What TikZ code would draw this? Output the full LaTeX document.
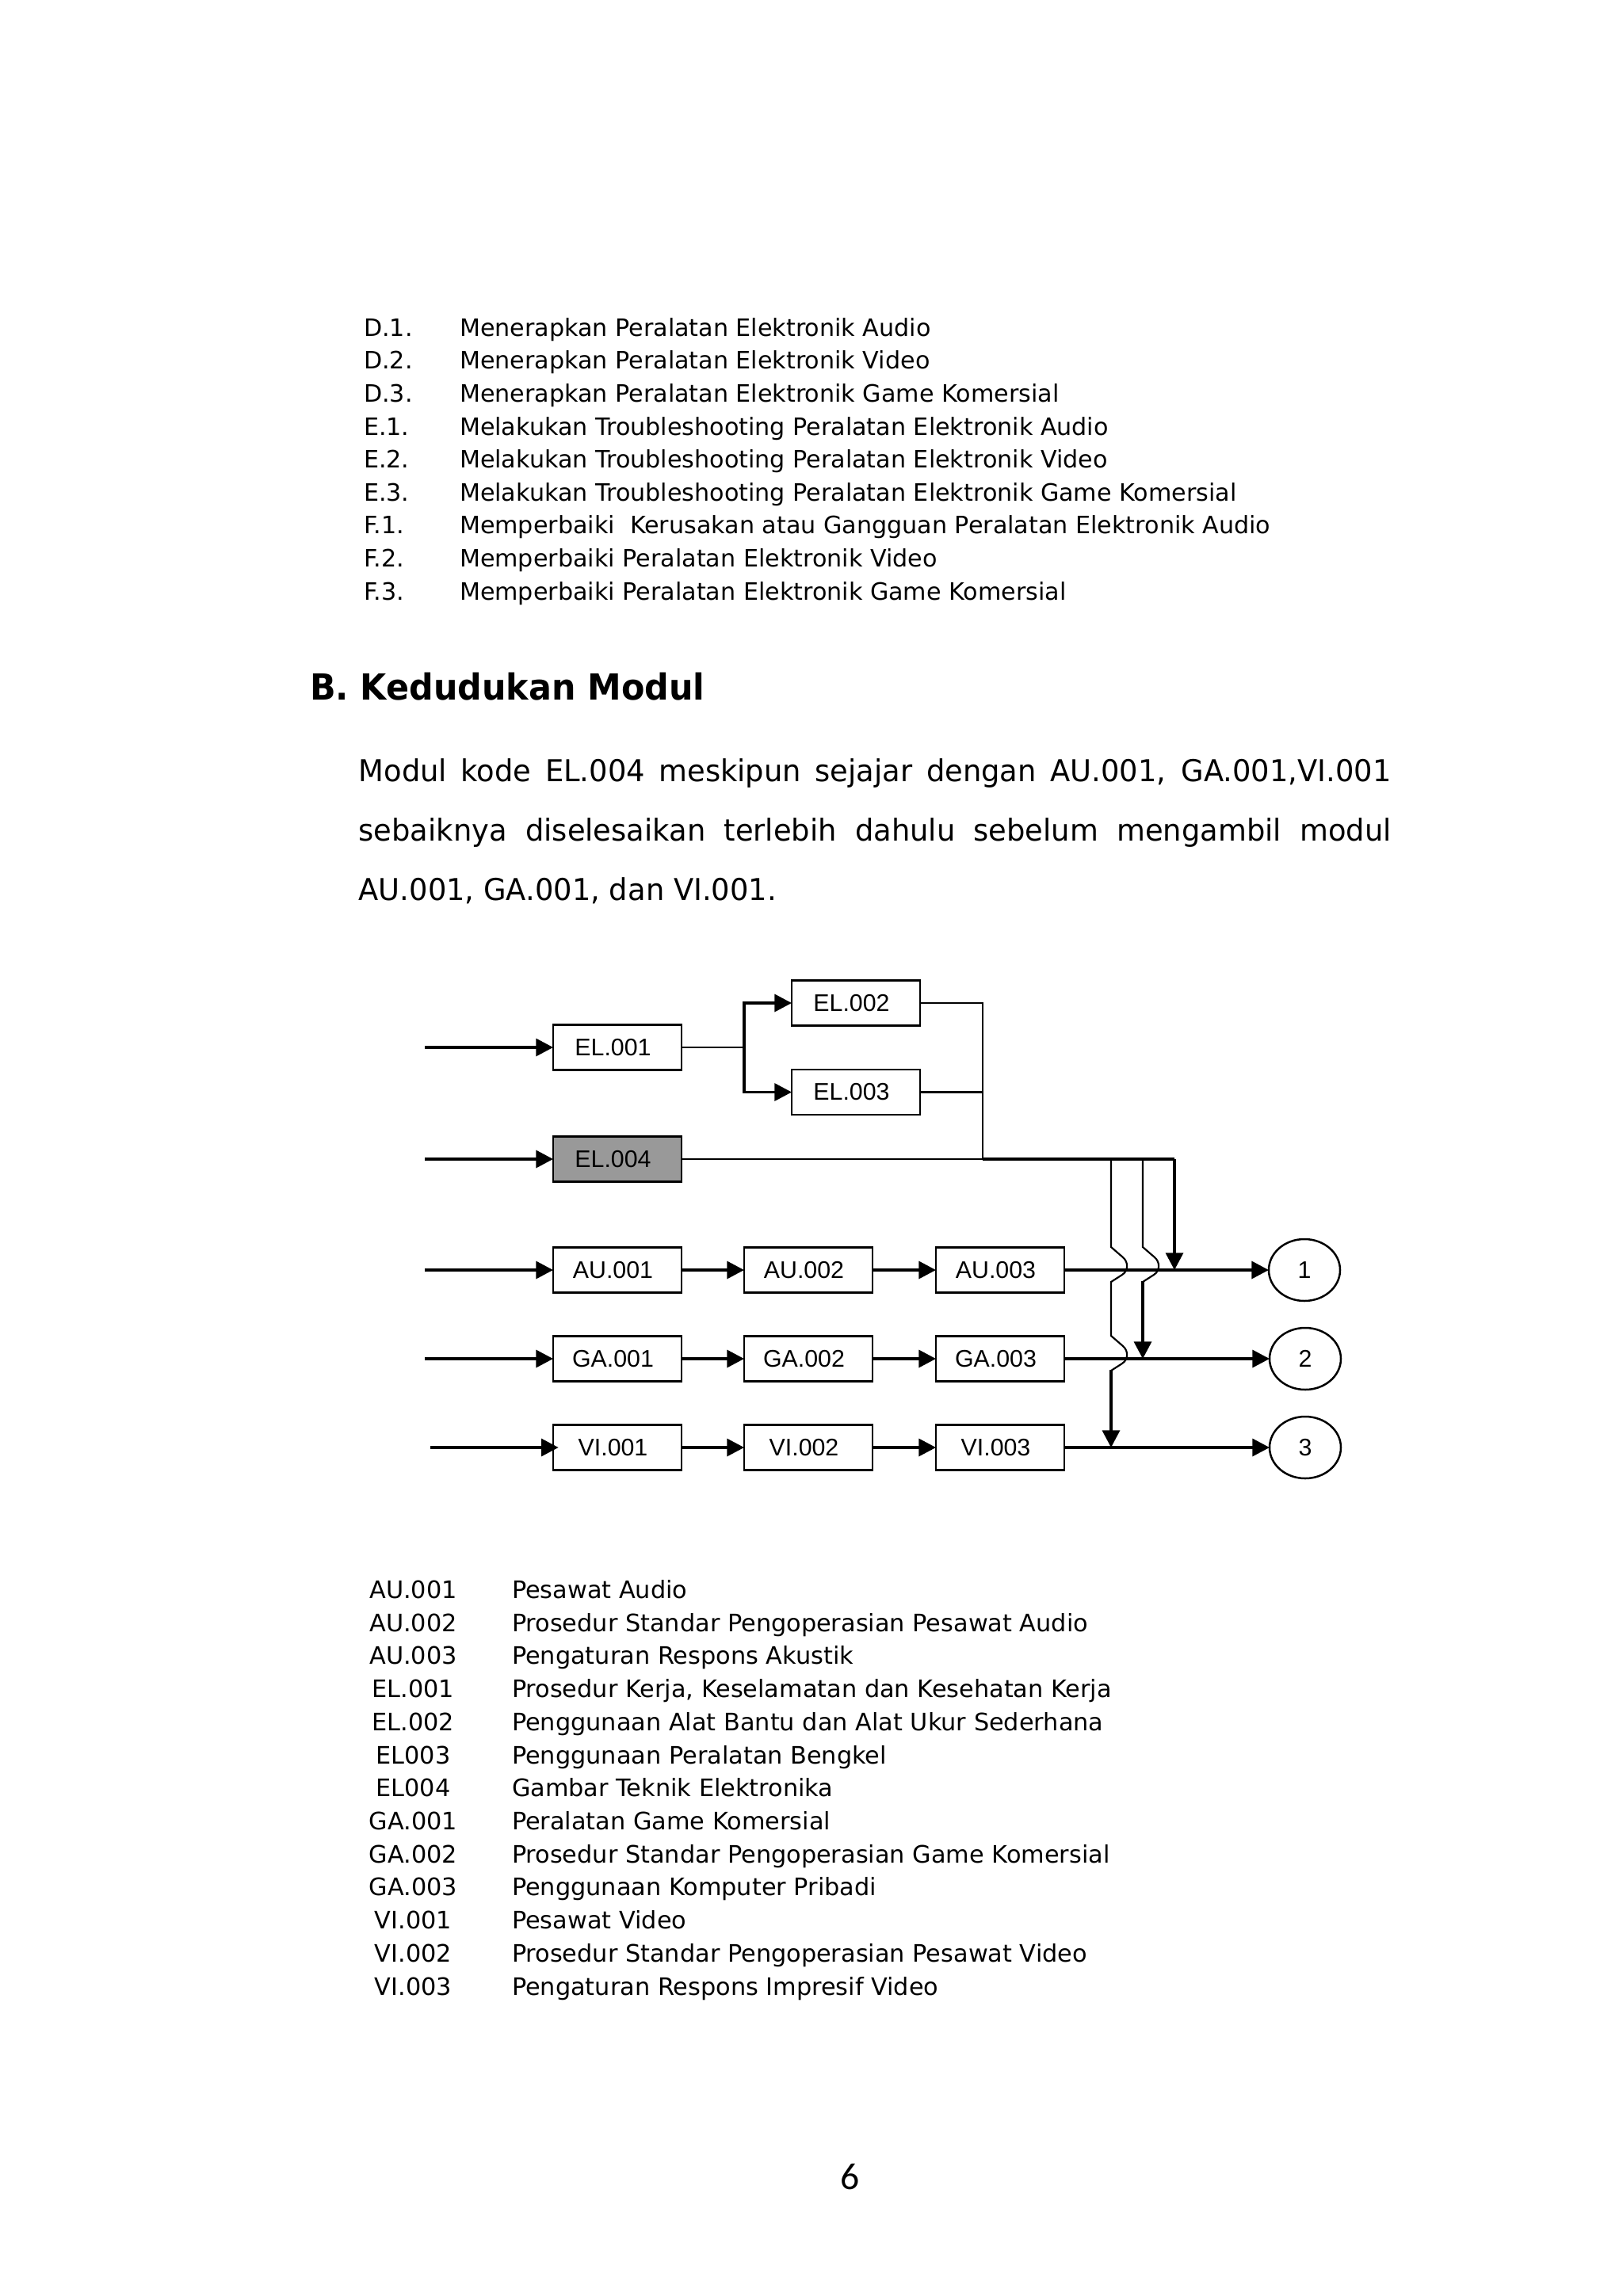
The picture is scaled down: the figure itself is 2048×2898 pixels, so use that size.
\documentclass[tikz,border=0pt]{standalone}
\usepackage{fontspec}
\setmainfont{DejaVu Sans}
\newfontfamily\parf{DejaVu Sans}[FakeStretch=0.97]
\newfontfamily\headf{DejaVu Sans}[FakeStretch=0.945]
\newfontfamily\arialf{Liberation Sans}
\newfontfamily\calib{Carlito}
\usetikzlibrary{arrows.meta,shapes.geometric}
\newcommand\listsz{\fontsize{9.05}{10}\selectfont}
\newcommand\parsz{\parf\fontsize{11.4}{13}\selectfont}
\newcommand\legsz{\fontsize{9.1}{10}\selectfont}
\begin{document}
\begin{tikzpicture}[x=0.3pt,y=-0.3pt,
  txt/.style={anchor=base west,inner sep=0pt,outer sep=0pt},
  box/.style={draw,line width=0.75pt,minimum width=48.6pt,minimum height=17.1pt,
    inner sep=0pt,outer sep=0pt,font=\arialf\fontsize{9.1}{10}\selectfont,
    execute at begin node=\hspace*{-3.3pt}},
  endc/.style={ellipse,draw,line width=0.75pt,minimum width=27pt,minimum height=23.4pt,
    inner sep=0pt,outer sep=0pt,font=\arialf\fontsize{9.1}{10}\selectfont},
  arr/.style={line width=1pt,-{Triangle[length=6.5pt,width=6.6pt]}},
  thinl/.style={line width=0.65pt},
  thickl/.style={line width=1pt}]
\useasboundingbox[fill=white] (0,0) rectangle (2048,2898);

% ---- top list ----
\foreach \k/\a/\b in {0/D.1./Menerapkan Peralatan Elektronik Audio,
  1/D.2./Menerapkan Peralatan Elektronik Video,
  2/D.3./Menerapkan Peralatan Elektronik Game Komersial,
  3/E.1./Melakukan Troubleshooting Peralatan Elektronik Audio,
  4/E.2./Melakukan Troubleshooting Peralatan Elektronik Video,
  5/E.3./Melakukan Troubleshooting Peralatan Elektronik Game Komersial,
  6/F.1./{Memperbaiki\ \ Kerusakan atau Gangguan Peralatan Elektronik Audio},
  7/F.2./Memperbaiki Peralatan Elektronik Video,
  8/F.3./Memperbaiki Peralatan Elektronik Game Komersial}{
  \node[txt,font=\listsz] (la\k) at (459,424.3+41.6*\k) {\a};
  \node[txt,font=\listsz] (lt\k) at (580,424.3+41.6*\k) {\b};
}

% ---- heading and paragraph ----
\node[txt,font=\headf\bfseries\fontsize{13.6}{15}\selectfont] (head) at (391,883.3) {B. Kedudukan Modul};
\node[txt,font=\parsz] (p1) at (452.7,986) {\makebox[390.9pt][s]{Modul kode EL.004 meskipun sejajar dengan AU.001, GA.001,VI.001}};
\node[txt,font=\parsz] (p2) at (452.7,1061) {\makebox[390.9pt][s]{sebaiknya diselesaikan terlebih dahulu sebelum mengambil modul}};
\node[txt,font=\parsz] (p3) at (452.7,1136) {AU.001, GA.001, dan VI.001.};

% ---- diagram ----
\node[box] (EL1) at (779,1322) {EL.001};
\node[box] (EL2) at (1080,1266) {EL.002};
\node[box] (EL3) at (1080,1378.5) {EL.003};
\node[box,fill=black!40] (EL4) at (779,1463) {EL.004};
\node[box] (AU1) at (779,1603) {AU.001};
\node[box] (AU2) at (1020,1603) {AU.002};
\node[box] (AU3) at (1262,1603) {AU.003};
\node[box] (GA1) at (779,1715) {GA.001};
\node[box] (GA2) at (1020,1715) {GA.002};
\node[box] (GA3) at (1262,1715) {GA.003};
\node[box] (VI1) at (779,1827) {VI.001};
\node[box] (VI2) at (1020,1827) {VI.002};
\node[box] (VI3) at (1262,1827) {VI.003};
\node[endc] (C1) at (1646,1603) {1};
\node[endc] (C2) at (1647,1715) {2};
\node[endc] (C3) at (1647,1827) {3};

% inputs
\coordinate (inEL1) at (536,1322);
\coordinate (inEL4) at (536,1463);
\coordinate (inAU) at (536,1603);
\coordinate (inGA) at (536,1715);
\coordinate (inVI) at (543,1827);
\draw[arr] (inEL1) -- (EL1.west);
\draw[arr] (inEL4) -- (EL4.west);
\draw[arr] (inAU) -- (AU1.west);
\draw[arr] (inGA) -- (GA1.west);
\draw[arr] (inVI) -- ([xshift=2pt]VI1.west);

% EL branching
\coordinate (br) at (939,1322);
\draw[thinl] (EL1.east) -- (br);
\draw[arr] (br) |- (EL2.west);
\draw[arr] (br) |- (EL3.west);
\coordinate (jn) at (1240,1463);
\draw[thinl] (EL2.east) -| (jn);
\draw[thinl] (EL3.east) -- (EL3.east -| jn);
\draw[thinl] (EL4.east) -- (jn);
\coordinate (b1) at (1402,1463);
\coordinate (b2) at (1442,1463);
\coordinate (b3) at (1482,1463);
\draw[thickl] (jn) -- (b3);
\coordinate (t1) at (1482,1603);
\draw[arr] (b3) -- (t1);
% line to GA row, jumping over AU row
\coordinate (t2) at (1442,1715);
\draw[thinl] (b2) -- (1442,1574) -- (1457,1587) .. controls (1464,1593) and (1464,1604) .. (1456,1609) -- (1442,1618);
\draw[arr] (1442,1617) -- (t2);
% line to VI row, jumping over AU and GA rows
\coordinate (t3) at (1402,1827);
\draw[thinl] (b1) -- (1402,1574) -- (1417,1587) .. controls (1424,1593) and (1424,1604) .. (1416,1609) -- (1402,1618)
  -- (1402,1686) -- (1417,1699) .. controls (1424,1705) and (1424,1716) .. (1416,1721) -- (1402,1730);
\draw[arr] (1402,1729) -- (t3);

% rows
\draw[arr] (AU1.east) -- (AU2.west);
\draw[arr] (AU2.east) -- (AU3.west);
\draw[arr] (AU3.east) -- (C1.west);
\draw[arr] (GA1.east) -- (GA2.west);
\draw[arr] (GA2.east) -- (GA3.west);
\draw[arr] (GA3.east) -- (C2.west);
\draw[arr] (VI1.east) -- (VI2.west);
\draw[arr] (VI2.east) -- (VI3.west);
\draw[arr] (VI3.east) -- (C3.west);

% ---- legend ----
\foreach \k/\a/\b in {0/AU.001/Pesawat Audio,
  1/AU.002/Prosedur Standar Pengoperasian Pesawat Audio,
  2/AU.003/Pengaturan Respons Akustik,
  3/EL.001/{Prosedur Kerja, Keselamatan dan Kesehatan Kerja},
  4/EL.002/Penggunaan Alat Bantu dan Alat Ukur Sederhana,
  5/EL003/Penggunaan Peralatan Bengkel,
  6/EL004/Gambar Teknik Elektronika,
  7/GA.001/Peralatan Game Komersial,
  8/GA.002/Prosedur Standar Pengoperasian Game Komersial,
  9/GA.003/Penggunaan Komputer Pribadi,
  10/VI.001/Pesawat Video,
  11/VI.002/Prosedur Standar Pengoperasian Pesawat Video,
  12/VI.003/Pengaturan Respons Impresif Video}{
  \node[anchor=base,inner sep=0pt,font=\legsz] (lc\k) at (521.5,2017.3+41.74*\k) {\a};
  \node[txt,font=\legsz] (ld\k) at (646,2017.3+41.74*\k) {\b};
}

% page number
\node[anchor=base,inner sep=0pt,font=\calib\fontsize{14.3}{16}\selectfont] (pg) at (1073,2763) {6};
\end{tikzpicture}
\end{document}
